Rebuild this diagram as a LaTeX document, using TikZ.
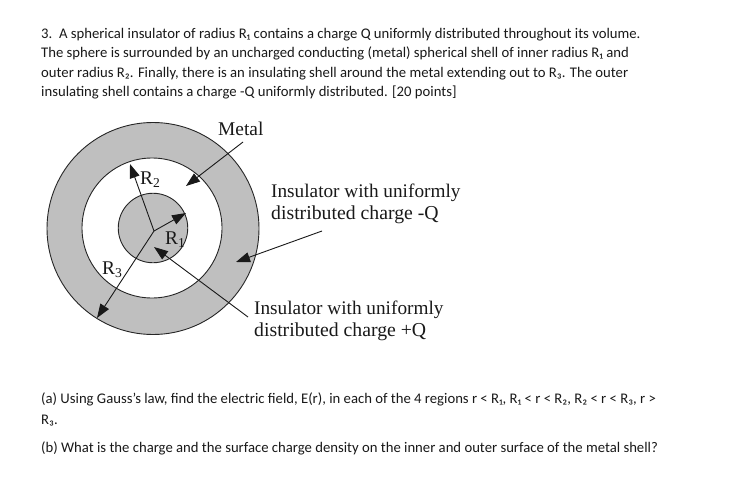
\documentclass[tikz,border=0pt]{standalone}
\usepackage{fontspec}
\setmainfont{Carlito}
\newfontfamily\figfont{Liberation Serif}
\usetikzlibrary{arrows.meta}
\tikzset{
  para/.style={anchor=base west,inner sep=0pt,font=\fontsize{14.7pt}{17pt}\selectfont,text=black!90},
  figlabel/.style={anchor=base west,inner sep=0pt,font=\figfont\fontsize{19.4pt}{24pt}\selectfont,text=black!90},
  figfirst/.style={figlabel,font=\figfont\fontsize{19.25pt}{24pt}\selectfont},
  figsecond/.style={figlabel,font=\figfont\fontsize{19.75pt}{24pt}\selectfont},
  disc/.style={circle,draw=black!85,line width=0.9pt,inner sep=0pt},
  shell/.style={disc,fill=black!25},
  pointer/.style={draw=black!90,line width=0.9pt,-{Triangle[length=14pt,width=10pt]}}
}
\begin{document}
\begin{tikzpicture}[x=1pt,y=-1pt]
\useasboundingbox (0,0) rectangle (741,479);
\fill[white] (0,0) rectangle (741,479);
\node[para] (t1) at (41,38) {3.\ \ A spherical insulator of radius R₁ contains a charge Q uniformly distributed throughout its volume.};
\node[para] (t2) at (41,57.5) {The sphere is surrounded by an uncharged conducting (metal) spherical shell of inner radius R₁ and};
\node[para] (t3) at (41,77) {outer radius R₂. Finally, there is an insulating shell around the metal extending out to R₃. The outer};
\node[para] (t4) at (41,96.5) {insulating shell contains a charge -Q uniformly distributed. [20 points]};
\node[shell,minimum size=212pt] (outer) at (153,228.5) {};
\node[disc,fill=white,minimum size=140pt] (middle) at (152,228) {};
\node[shell,minimum size=69.5pt] (inner) at (153,228) {};
\coordinate (c) at (154,231);
\coordinate (r1end) at (186,213);
\coordinate (r2end) at (130,164);
\coordinate (r3end) at (97,318);
\coordinate (mstart) at (243,142);
\coordinate (mend) at (186,186);
\coordinate (qnstart) at (322,231);
\coordinate (qnend) at (236,262);
\coordinate (qpstart) at (248,317);
\coordinate (qpend) at (154,247);
\draw[pointer] (c) -- (r1end);
\draw[pointer] (c) -- (r2end);
\draw[pointer] (c) -- (r3end);
\draw[pointer] (mstart) -- (mend);
\draw[pointer] (qnstart) -- (qnend);
\draw[pointer] (qpstart) -- (qpend);
\node[figlabel] (metal) at (218,135) {Metal};
\node[figlabel] (r2) at (140,184) {R\textsubscript{2}};
\node[figlabel] (r1) at (165,244) {R\textsubscript{1}};
\node[figlabel] (r3) at (102,274) {R\textsubscript{3}};
\node[figfirst] (qn1) at (271,197) {Insulator with uniformly};
\node[figsecond] (qn2) at (271,219) {distributed charge -Q};
\node[figfirst] (qp1) at (254,314) {Insulator with uniformly};
\node[figsecond] (qp2) at (254,336) {distributed charge +Q};
\node[para] (a1) at (41,403) {(a) Using Gauss’s law, find the electric field, E(r), in each of the 4 regions r < R₁, R₁ < r < R₂, R₂ < r < R₃, r >};
\node[para] (a2) at (41,424) {R₃.};
\node[para] (b1) at (41,452) {(b) What is the charge and the surface charge density on the inner and outer surface of the metal shell?};
\end{tikzpicture}
\end{document}
